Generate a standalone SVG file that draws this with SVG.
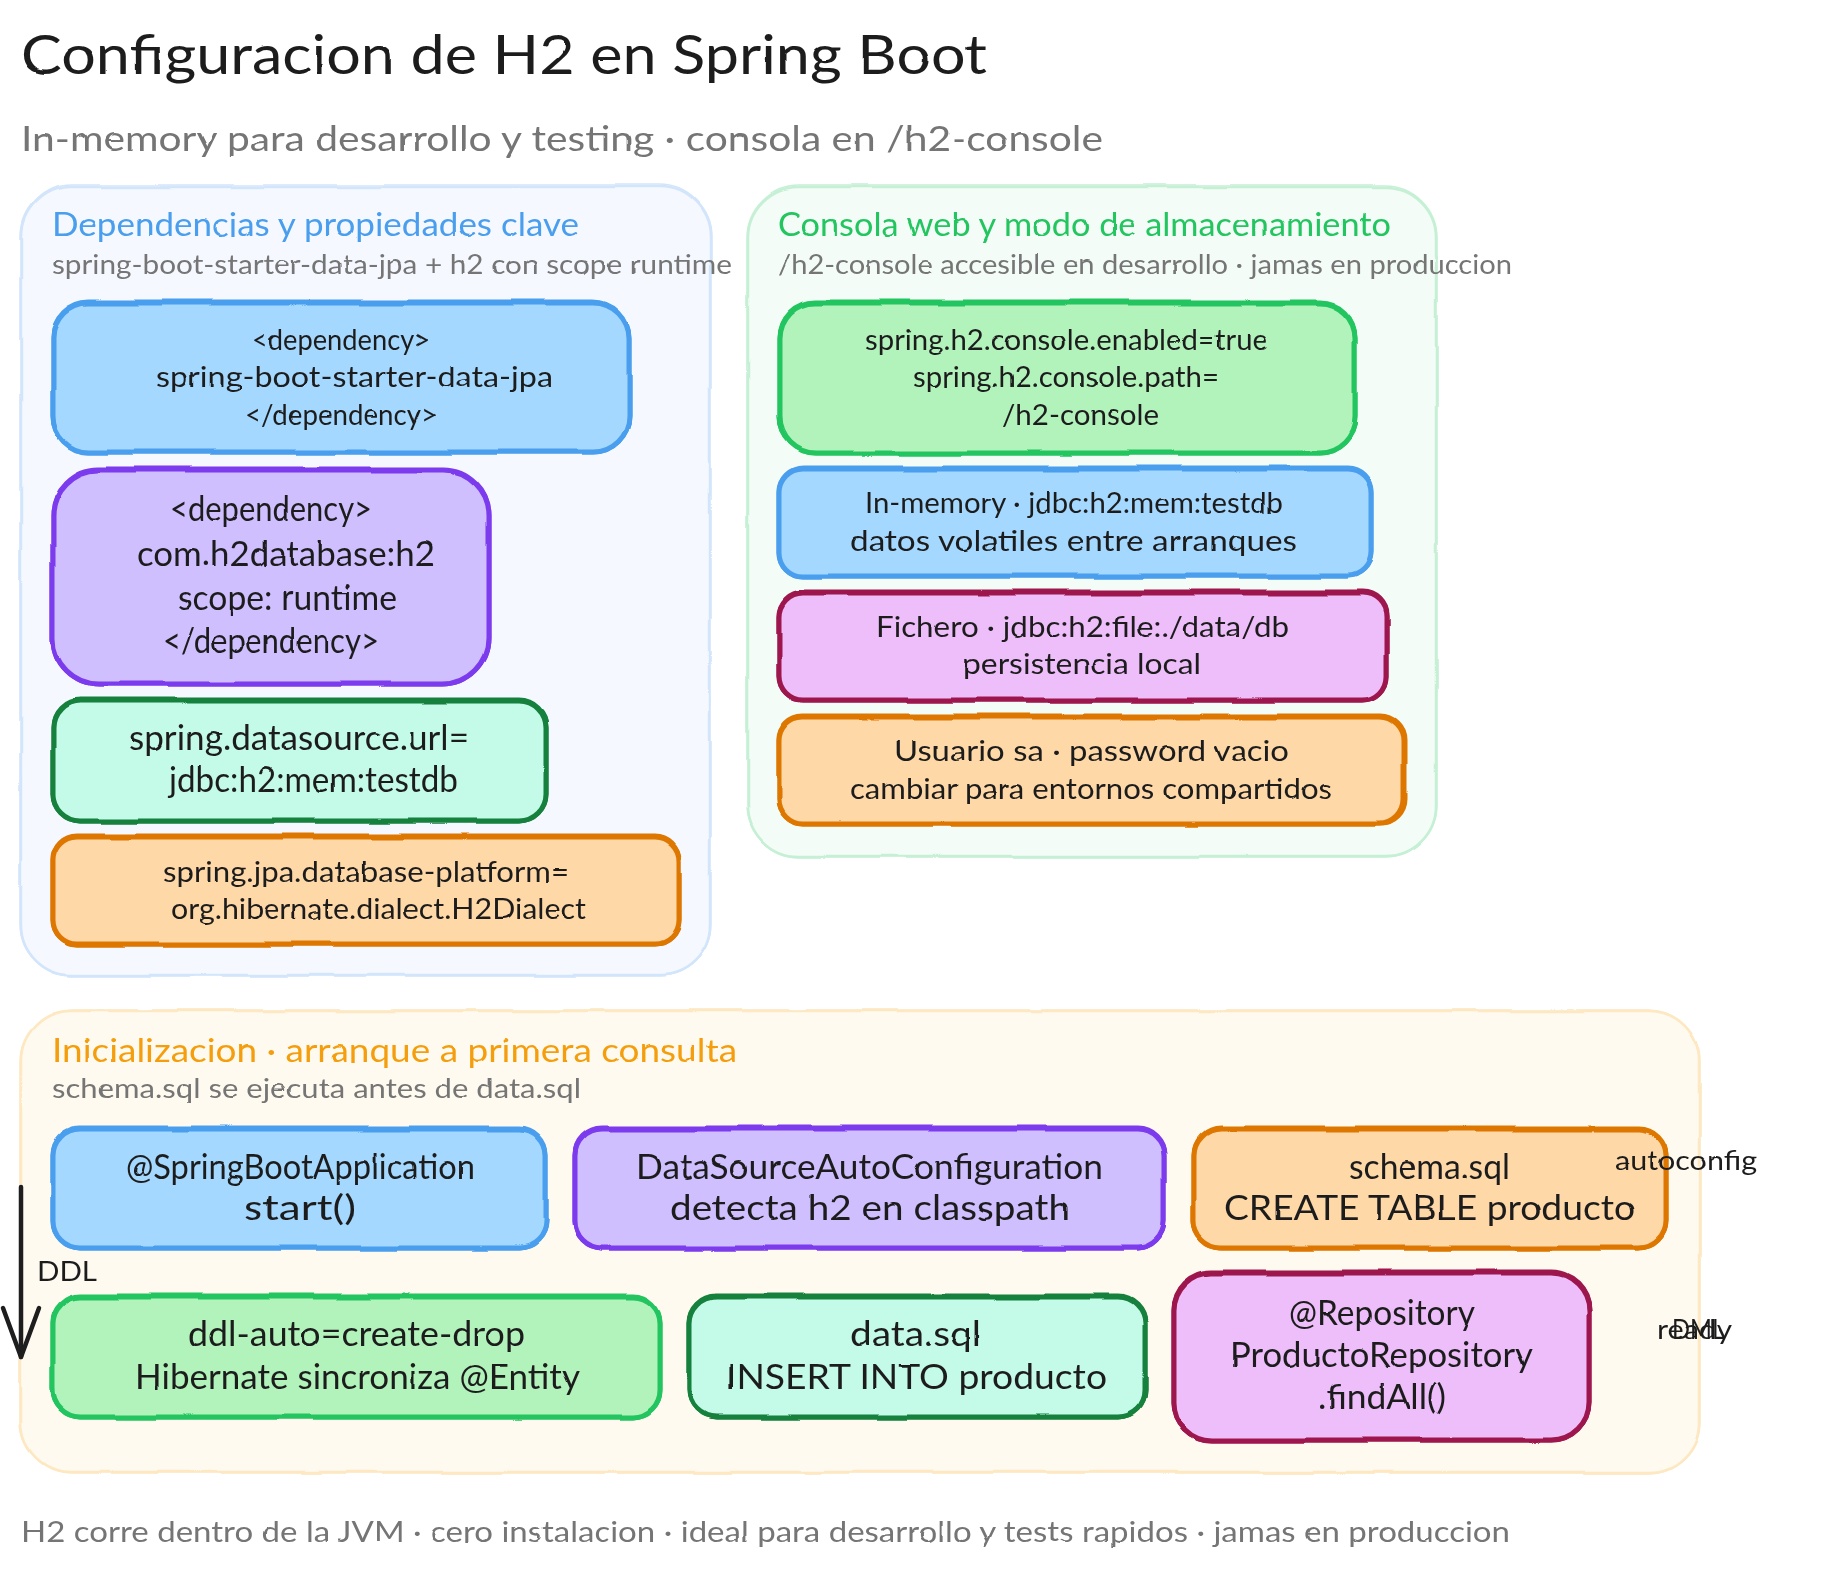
<svg xmlns="http://www.w3.org/2000/svg" width="1821" height="1569" viewBox="0 0 1821 1569">
<style>
text{font-family:"Lato","Noto Sans",sans-serif;fill:#1e1e1e;font-size:28px;filter:url(#handtext);transform:translateY(1.5px)}
.title{font-size:54px}
.sub{font-size:34px;fill:#757575}
.ph{font-size:32px}
.ps{font-size:26px;fill:#757575}
.big{font-size:34px}
.foot{font-size:28px;fill:#757575}
.lab{font-size:27px}
.shape{filter:url(#rough)}
.shape rect{stroke-width:5}
.shape rect+rect{fill:none;stroke-width:3}
.panel rect{stroke-width:2.5}
.panel rect+rect{fill:none;stroke-width:1.5}
.blue rect{fill:#a5d8ff;stroke:#4a9eed}
.purple rect{fill:#d0bfff;stroke:#7c3aed}
.green rect{fill:#b2f2bb;stroke:#22c55e}
.teal rect{fill:#c3fae8;stroke:#15803d}
.orange rect{fill:#ffd8a8;stroke:#dd7706}
.pink rect{fill:#eebefa;stroke:#9d174d}
.pblue rect{fill:#f5f8ff;stroke:#d2e5fb}
.pgreen rect{fill:#f3fcf6;stroke:#c6f0d5}
.porange rect{fill:#fffaef;stroke:#fde8c2}
#connectors path{fill:none;stroke:#1e1e1e;stroke-width:4.5;stroke-linecap:round;stroke-linejoin:round}
</style>
<defs>
<filter id="rough" x="-3%" y="-3%" width="106%" height="106%"><feTurbulence type="fractalNoise" baseFrequency="0.012" numOctaves="2" seed="4"/><feDisplacementMap in="SourceGraphic" scale="4" xChannelSelector="R" yChannelSelector="G"/></filter>
<filter id="handtext" x="-2%" y="-10%" width="104%" height="120%"><feTurbulence type="fractalNoise" baseFrequency="0.04" numOctaves="2" seed="9"/><feDisplacementMap in="SourceGraphic" scale="2" xChannelSelector="R" yChannelSelector="G"/></filter>
<marker id="open" markerUnits="userSpaceOnUse" markerWidth="60" markerHeight="70" refX="30" refY="60" orient="0"><path d="M12 11L30 60L48 11" style="fill:none;stroke:#1e1e1e;stroke-width:4.5;stroke-linecap:round;stroke-linejoin:round"/></marker>
</defs>

<g id="header">
<text class="title" x="21" y="72" textLength="966" lengthAdjust="spacingAndGlyphs">Configuracion de H2 en Spring Boot</text>
<text class="sub" x="21" y="149" textLength="1082" lengthAdjust="spacingAndGlyphs">In-memory para desarrollo y testing · consola en /h2-console</text>
</g>

<g id="panel-dependencias">
<g class="shape panel pblue"><rect x="21" y="187" width="689" height="788" rx="50"/><rect x="20" y="185" width="691" height="791" rx="52"/></g>
<text class="ph" style="fill:#4a9eed" x="52" y="234" textLength="527" lengthAdjust="spacingAndGlyphs">Dependencias y propiedades clave</text>
<text class="ps" x="52" y="272" textLength="680" lengthAdjust="spacingAndGlyphs">spring-boot-starter-data-jpa + h2 con scope runtime</text>
</g>
<g id="panel-consola">
<g class="shape panel pgreen"><rect x="748" y="187" width="688" height="669" rx="50"/><rect x="747" y="185" width="690" height="672" rx="52"/></g>
<text class="ph" style="fill:#22c55e" x="778" y="234" textLength="613" lengthAdjust="spacingAndGlyphs">Consola web y modo de almacenamiento</text>
<text class="ps" x="778" y="272" textLength="734" lengthAdjust="spacingAndGlyphs">/h2-console accesible en desarrollo · jamas en produccion</text>
</g>
<g id="panel-inicializacion">
<g class="shape panel porange"><rect x="21" y="1011" width="1678" height="461" rx="50"/><rect x="20" y="1010" width="1680" height="463" rx="52"/></g>
<text class="ph" style="fill:#f59e0b" x="52" y="1060" textLength="685" lengthAdjust="spacingAndGlyphs">Inicializacion · arranque a primera consulta</text>
<text class="ps" x="52" y="1096" textLength="529" lengthAdjust="spacingAndGlyphs">schema.sql se ejecuta antes de data.sql</text>
</g>

<g id="node-starter-jpa">
<g class="shape blue"><rect x="53" y="303" width="576" height="149" rx="36"/><rect x="52" y="301" width="578" height="152" rx="37"/></g>
<text x="252" y="348" textLength="178" lengthAdjust="spacingAndGlyphs">&lt;dependency&gt;</text>
<text x="156" y="385" textLength="397" lengthAdjust="spacingAndGlyphs">spring-boot-starter-data-jpa</text>
<text x="245" y="423" textLength="192" lengthAdjust="spacingAndGlyphs">&lt;/dependency&gt;</text>
</g>
<g id="node-h2-dep">
<g class="shape purple"><rect x="53" y="470" width="436" height="214" rx="46"/><rect x="52" y="468" width="438" height="217" rx="47"/></g>
<text class="big" x="170" y="519" textLength="202" lengthAdjust="spacingAndGlyphs">&lt;dependency&gt;</text>
<text class="big" x="137" y="564" textLength="298" lengthAdjust="spacingAndGlyphs">com.h2database:h2</text>
<text class="big" x="178" y="608" textLength="219" lengthAdjust="spacingAndGlyphs">scope: runtime</text>
<text class="big" x="163" y="651" textLength="216" lengthAdjust="spacingAndGlyphs">&lt;/dependency&gt;</text>
</g>
<g id="node-datasource">
<g class="shape teal"><rect x="53" y="701" width="493" height="120" rx="27"/><rect x="52" y="699" width="495" height="123" rx="28"/></g>
<text class="big" x="129" y="748" textLength="340" lengthAdjust="spacingAndGlyphs">spring.datasource.url=</text>
<text class="big" x="169" y="790" textLength="289" lengthAdjust="spacingAndGlyphs">jdbc:h2:mem:testdb</text>
</g>
<g id="node-dialect">
<g class="shape orange"><rect x="53" y="837" width="626" height="107" rx="24"/><rect x="52" y="835" width="628" height="110" rx="25"/></g>
<text x="163" y="880" textLength="406" lengthAdjust="spacingAndGlyphs">spring.jpa.database-platform=</text>
<text x="171" y="917" textLength="415" lengthAdjust="spacingAndGlyphs">org.hibernate.dialect.H2Dialect</text>
</g>

<g id="node-console">
<g class="shape green"><rect x="779" y="303" width="576" height="150" rx="36"/><rect x="778" y="301" width="578" height="153" rx="37"/></g>
<text x="865" y="348" textLength="403" lengthAdjust="spacingAndGlyphs">spring.h2.console.enabled=true</text>
<text x="913" y="385" textLength="306" lengthAdjust="spacingAndGlyphs">spring.h2.console.path=</text>
<text x="1002" y="423" textLength="157" lengthAdjust="spacingAndGlyphs">/h2-console</text>
</g>
<g id="node-inmemory">
<g class="shape blue"><rect x="779" y="469" width="592" height="107" rx="24"/><rect x="778" y="467" width="594" height="110" rx="25"/></g>
<text x="865" y="511" textLength="418" lengthAdjust="spacingAndGlyphs">In-memory · jdbc:h2:mem:testdb</text>
<text x="850" y="549" textLength="447" lengthAdjust="spacingAndGlyphs">datos volatiles entre arranques</text>
</g>
<g id="node-fichero">
<g class="shape pink"><rect x="779" y="593" width="608" height="107" rx="24"/><rect x="778" y="591" width="610" height="110" rx="25"/></g>
<text x="876" y="635" textLength="413" lengthAdjust="spacingAndGlyphs">Fichero · jdbc:h2:file:./data/db</text>
<text x="963" y="672" textLength="238" lengthAdjust="spacingAndGlyphs">persistencia local</text>
</g>
<g id="node-usuario">
<g class="shape orange"><rect x="779" y="717" width="625" height="107" rx="24"/><rect x="778" y="715" width="628" height="110" rx="25"/></g>
<text x="894" y="759" textLength="395" lengthAdjust="spacingAndGlyphs">Usuario sa · password vacio</text>
<text x="850" y="797" textLength="482" lengthAdjust="spacingAndGlyphs">cambiar para entornos compartidos</text>
</g>

<g id="node-app">
<g class="shape blue"><rect x="53" y="1129" width="493" height="119" rx="27"/><rect x="52" y="1127" width="495" height="122" rx="28"/></g>
<text class="big" x="126" y="1177" textLength="349" lengthAdjust="spacingAndGlyphs">@SpringBootApplication</text>
<text class="big" x="244" y="1218" textLength="112" lengthAdjust="spacingAndGlyphs">start()</text>
</g>
<g id="node-autoconfig">
<g class="shape purple"><rect x="575" y="1129" width="589" height="119" rx="27"/><rect x="574" y="1127" width="591" height="122" rx="28"/></g>
<text class="big" x="636" y="1177" textLength="467" lengthAdjust="spacingAndGlyphs">DataSourceAutoConfiguration</text>
<text class="big" x="670" y="1218" textLength="400" lengthAdjust="spacingAndGlyphs">detecta h2 en classpath</text>
</g>
<g id="node-schema">
<g class="shape orange"><rect x="1194" y="1129" width="472" height="119" rx="27"/><rect x="1193" y="1127" width="474" height="122" rx="28"/></g>
<text class="big" x="1349" y="1177" textLength="161" lengthAdjust="spacingAndGlyphs">schema.sql</text>
<text class="big" x="1224" y="1218" textLength="411" lengthAdjust="spacingAndGlyphs">CREATE TABLE producto</text>
</g>
<g id="node-ddl">
<g class="shape green"><rect x="53" y="1297" width="607" height="120" rx="27"/><rect x="52" y="1295" width="609" height="123" rx="28"/></g>
<text class="big" x="188" y="1344" textLength="337" lengthAdjust="spacingAndGlyphs">ddl-auto=create-drop</text>
<text class="big" x="135" y="1387" textLength="445" lengthAdjust="spacingAndGlyphs">Hibernate sincroniza @Entity</text>
</g>
<g id="node-data">
<g class="shape teal"><rect x="690" y="1297" width="455" height="120" rx="27"/><rect x="689" y="1295" width="457" height="123" rx="28"/></g>
<text class="big" x="850" y="1344" textLength="131" lengthAdjust="spacingAndGlyphs">data.sql</text>
<text class="big" x="726" y="1387" textLength="381" lengthAdjust="spacingAndGlyphs">INSERT INTO producto</text>
</g>
<g id="node-repository">
<g class="shape pink"><rect x="1174" y="1273" width="415" height="167" rx="38"/><rect x="1173" y="1271" width="417" height="170" rx="39"/></g>
<text class="big" x="1289" y="1323" textLength="186" lengthAdjust="spacingAndGlyphs">@Repository</text>
<text class="big" x="1230" y="1365" textLength="303" lengthAdjust="spacingAndGlyphs">ProductoRepository</text>
<text class="big" x="1318" y="1407" textLength="128" lengthAdjust="spacingAndGlyphs">.findAll()</text>
</g>

<g id="connectors">
<path d="M21 1187L21 1357" marker-end="url(#open)"/>
<text class="lab" x="1615" y="1168" textLength="142" lengthAdjust="spacingAndGlyphs">autoconfig</text>
<text class="lab" x="37" y="1279" textLength="60" lengthAdjust="spacingAndGlyphs">DDL</text>
<text class="lab" x="1657" y="1337" textLength="75" lengthAdjust="spacingAndGlyphs">ready</text>
<text class="lab" x="1672" y="1337" textLength="52" lengthAdjust="spacingAndGlyphs">DML</text>
</g>

<text class="foot" x="21" y="1540" textLength="1489" lengthAdjust="spacingAndGlyphs">H2 corre dentro de la JVM · cero instalacion · ideal para desarrollo y tests rapidos · jamas en produccion</text>
</svg>
